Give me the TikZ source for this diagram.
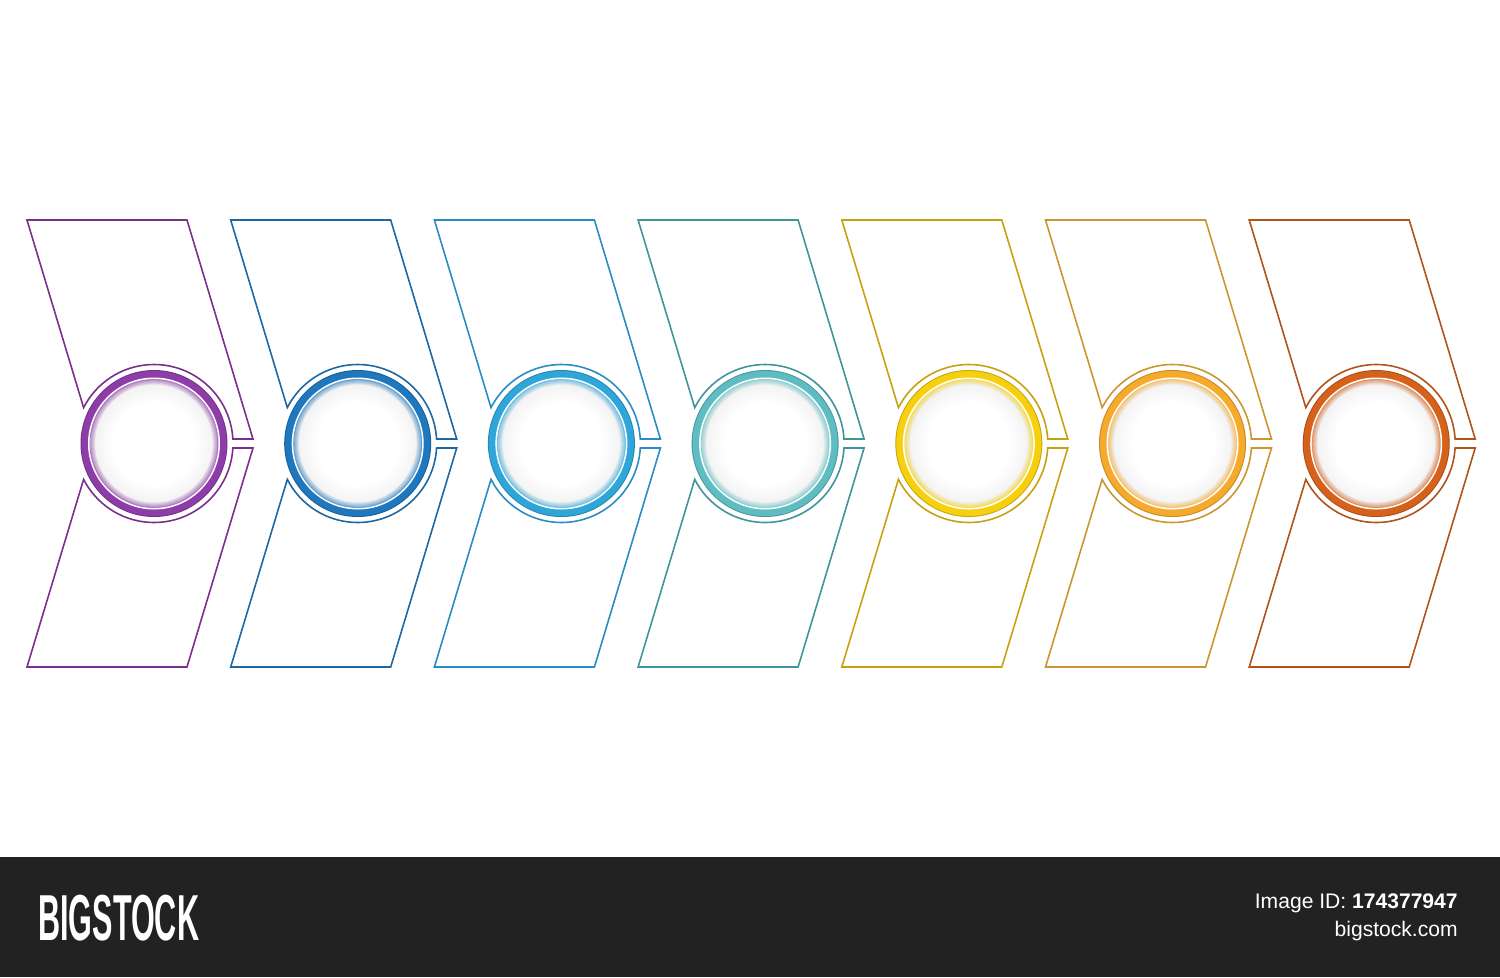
\documentclass[tikz,border=0pt]{standalone}
\usepackage{graphicx}
\usepackage{fontspec}
\setmainfont{Liberation Sans}
\usepackage{tikz}
\usetikzlibrary{calc}

% 线条颜色与圆环颜色
\definecolor{lineA}{HTML}{7A2E8E}\definecolor{ringA}{HTML}{8E3DA8}
\definecolor{lineB}{HTML}{1D67A3}\definecolor{ringB}{HTML}{1F78BE}
\definecolor{lineC}{HTML}{2A8CC4}\definecolor{ringC}{HTML}{2EA6DA}
\definecolor{lineD}{HTML}{3E959B}\definecolor{ringD}{HTML}{5DBDC3}
\definecolor{lineE}{HTML}{C8A112}\definecolor{ringE}{HTML}{F6D00E}
\definecolor{lineF}{HTML}{CC9530}\definecolor{ringF}{HTML}{F6AA2C}
\definecolor{lineG}{HTML}{B0531A}\definecolor{ringG}{HTML}{D6611A}
\definecolor{bardark}{HTML}{222222}

% 圆内的白色到浅灰渐变
\pgfdeclareradialshading{innerdisk}{\pgfpointorigin}{color(0bp)=(white); color(16bp)=(white); color(23bp)=(gray!9); color(25bp)=(gray!14); color(50bp)=(gray!14)}

\begin{document}
\begin{tikzpicture}[x=0.02cm, y=-0.02cm, line join=miter]

  % 画布参数
  \def\dx{203.7}   % 相邻箭头的间距
  \def\R{79}       % 外细圈半径
  \def\ang{153}    % 左斜边与外细圈的交点角度
  \def\tip{3.26}   % 右尖角横线与外细圈的交点角度

  % 背景(固定边界)
  \fill[white] (0,0) rectangle (1500,977);

  % 七个箭头
  \foreach \i/\lc/\rc in {0/lineA/ringA, 1/lineB/ringB, 2/lineC/ringC, 3/lineD/ringD,
                          4/lineE/ringE, 5/lineF/ringF, 6/lineG/ringG}{
    \coordinate (c\i) at ({154+\dx*\i},443.5);

    % 上半部分
    \draw[\lc, line width=0.9pt]
      ($(c\i)+(-\ang:\R)$) -- ($(c\i)+(-127,-223.5)$) -- ($(c\i)+(33,-223.5)$)
      -- ($(c\i)+(99,-4.5)$) -- ($(c\i)+(-\tip:\R)$)
      arc[start angle=-\tip, end angle=-\ang, radius=\R] -- cycle;

    % 下半部分
    \draw[\lc, line width=0.9pt]
      ($(c\i)+(\ang:\R)$) -- ($(c\i)+(-127,223.5)$) -- ($(c\i)+(33,223.5)$)
      -- ($(c\i)+(99,4.5)$) -- ($(c\i)+(\tip:\R)$)
      arc[start angle=\tip, end angle=\ang, radius=\R] -- cycle;

    % 粗圆环
    \fill[\rc!80!black] (c\i) circle (73.5);
    \fill[\rc] (c\i) circle (72.5);
    \fill[white] (c\i) circle (66);
    \fill[\rc!55] (c\i) circle (64.5);
    \shade[shading=innerdisk] (c\i) circle (63.5);

    % 内侧光晕
    \foreach \k [evaluate=\k as \op using {0.45-0.085*\k}] in {0,...,4}
      \draw[\rc, opacity=\op, line width=0.7pt] (c\i) circle ({63.5-\k});
  }

  % 底部黑色条
  \fill[bardark] (0,857) rectangle (1500,977);
  \node[anchor=base west, inner sep=0, text=white,
        font=\fontsize{37}{40}\selectfont\bfseries] (logo) at (38,940)
        {\scalebox{0.47}[1]{BIGSTOCK}};
  \node[anchor=base east, inner sep=0, text=white,
        font=\fontsize{12}{14}\selectfont] (imgid) at (1458,908)
        {Image ID: \textbf{174377947}};
  \node[anchor=base east, inner sep=0, text=white,
        font=\fontsize{12}{14}\selectfont] (site) at (1458,936)
        {bigstock.com};

\end{tikzpicture}
\end{document}
